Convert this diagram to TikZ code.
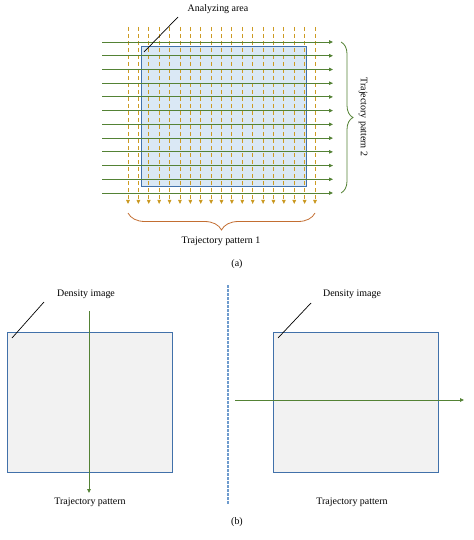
\documentclass[tikz,border=0pt]{standalone}
\usepackage{fontspec}
\setmainfont{Liberation Serif}
\usetikzlibrary{arrows.meta,decorations.pathreplacing}
\definecolor{trajgreen}{RGB}{84,130,53}
\definecolor{scanorange}{RGB}{205,155,35}
\definecolor{bracebrown}{RGB}{195,110,50}
\definecolor{areablue}{RGB}{65,113,170}
\definecolor{areafill}{RGB}{218,232,245}
\definecolor{imgfill}{RGB}{242,242,242}
\definecolor{splitblue}{RGB}{110,155,205}
\tikzset{every path/.style={line width=0.8pt}}
\tikzset{
  traj/.style={draw=trajgreen,line width=0.9pt,-{Triangle[length=4bp,width=3.5bp]}},
  scan/.style={draw=scanorange,line width=0.9pt,dash pattern=on 4bp off 3bp,-{Triangle[length=4bp,width=3.5bp,fill=scanorange!70!black]}},
  frame/.style={draw=areablue,line width=1pt},
  pointer/.style={draw=black,line width=0.7pt},
  lbl/.style={font=\fontsize{10}{12}\selectfont,inner sep=1pt}
}
\begin{document}
\begin{tikzpicture}[x=1bp,y=-1bp]
\useasboundingbox (0,0) rectangle (474,540);
% (a) analyzing area with both trajectory patterns
\draw[frame,fill=areafill] (141,47) rectangle (306,186);
\foreach \i in {0,...,18}
  \draw[scan] (128+10.39*\i,27) -- (128+10.39*\i,204);
\foreach \j in {0,...,11}
  \draw[traj] (102,42+13.73*\j) -- (333,42+13.73*\j);
\node[lbl] (alab) at (218,9) {Analyzing area};
\coordinate (atop) at (178,17);
\coordinate (acorner) at (144,52);
\draw[pointer] (atop) -- (acorner);
\coordinate (b2top) at (341,42);
\coordinate (b2bot) at (341,193);
\draw[trajgreen,decorate,decoration={brace,amplitude=12bp}] (b2top) -- (b2bot);
\node[lbl,rotate=-90] (p2lab) at (363,117) {Trajectory pattern 2};
\coordinate (b1left) at (128,213);
\coordinate (b1right) at (315,213);
\draw[bracebrown,decorate,decoration={brace,amplitude=17bp}] (b1right) -- (b1left);
\node[lbl] (p1lab) at (221,241) {Trajectory pattern 1};
\node[lbl] (alabel) at (237,264) {(a)};

% (b) density images
\draw[splitblue,line width=1.3pt,dash pattern=on 2.5bp off 1.5bp] (228,285) -- (228,505);
\draw[frame,fill=imgfill] (7,332) rectangle (172,472);
\node[lbl] (dleft) at (86,294) {Density image};
\coordinate (dltop) at (44,302);
\coordinate (dlcorner) at (12,338);
\draw[pointer] (dltop) -- (dlcorner);
\coordinate (vstart) at (89,311);
\coordinate (vend) at (89,493);
\draw[traj] (vstart) -- (vend);
\node[lbl] (tleft) at (90,502) {Trajectory pattern};

\draw[frame,fill=imgfill] (273,332) rectangle (438,472);
\node[lbl] (dright) at (352,294) {Density image};
\coordinate (drtop) at (311,303);
\coordinate (drcorner) at (278,338);
\draw[pointer] (drtop) -- (drcorner);
\coordinate (hstart) at (235,400);
\coordinate (hend) at (464,400);
\draw[traj] (hstart) -- (hend);
\node[lbl] (tright) at (352,502) {Trajectory pattern};
\node[lbl] (blabel) at (237,522) {(b)};
\end{tikzpicture}
\end{document}
